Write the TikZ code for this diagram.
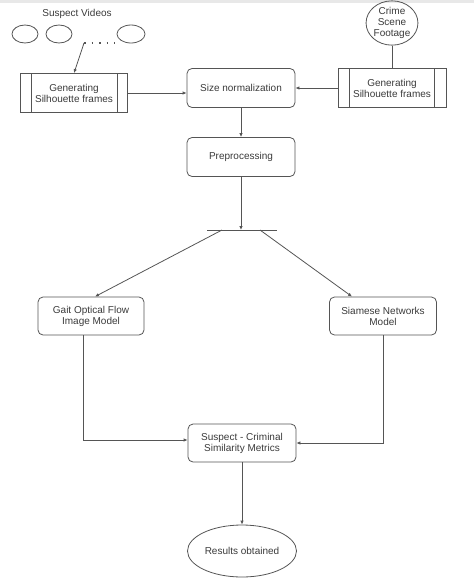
\documentclass[tikz,border=0pt]{standalone}
\usepackage{fontspec}
\setmainfont{Liberation Sans}
\usetikzlibrary{arrows.meta,shapes.geometric}
\definecolor{ln}{HTML}{555555}
\definecolor{tx}{HTML}{3A3A3A}
\tikzset{
  base/.style={draw=ln,line width=0.8pt,text=tx,align=center,font=\fontsize{10}{11}\selectfont,inner sep=1pt},
  rbox/.style={base,rectangle,rounded corners=5pt,minimum width=108pt,minimum height=39pt},
  pbox/.style={base,rectangle,minimum width=107pt,minimum height=39pt},
  oval/.style={base,ellipse,inner sep=0pt},
  conn/.style={draw=ln,line width=0.8pt},
  arr/.style={conn,-{Latex[length=4pt,width=3.5pt]}}
}
\begin{document}
\begin{tikzpicture}[x=1pt,y=-1pt]
\useasboundingbox (0,0) rectangle (474,579);
\fill[gray!18] (0,0) rectangle (474,3);
% suspect videos
\node[text=tx,font=\fontsize{10}{11}\selectfont] (sv) at (77,14) {Suspect Videos};
\node[oval,minimum width=26pt,minimum height=18pt] (v1) at (25,34) {};
\node[oval,minimum width=26pt,minimum height=18pt] (v2) at (59,34) {};
\node[oval,minimum width=28pt,minimum height=18pt] (v3) at (131,34) {};
\coordinate (d1) at (84,43);
\coordinate (d2) at (115,43);
\draw[ln,line width=1.3pt,dash pattern=on 1.5pt off 6pt] (d1) -- (d2);
% crime scene
\node[oval,minimum width=50pt,minimum height=36pt] (cs) at (392,23) {Crime\\Scene\\Footage};
% generating boxes
\node[pbox] (g1) at (74,93) {Generating\\Silhouette frames};
\draw[conn] ([xshift=11pt]g1.north west) -- ([xshift=11pt]g1.south west);
\draw[conn] ([xshift=-11pt]g1.north east) -- ([xshift=-11pt]g1.south east);
\node[pbox,minimum width=108pt] (g2) at (392,88) {Generating\\Silhouette frames};
\draw[conn] ([xshift=12pt]g2.north west) -- ([xshift=12pt]g2.south west);
\draw[conn] ([xshift=-12pt]g2.north east) -- ([xshift=-12pt]g2.south east);
% main column
\node[rbox] (sn) at (241,88) {Size normalization};
\node[rbox] (pre) at (241,157) {Preprocessing};
\coordinate (barL) at (207,230);
\coordinate (barR) at (277,230);
\coordinate (barA) at (222,230);
\coordinate (barB) at (260,230);
\node[rbox,minimum width=106pt,minimum height=38pt] (gait) at (91,316) {Gait Optical Flow\\Image Model};
\node[rbox,minimum width=107pt,minimum height=38pt] (siam) at (383,316) {Siamese Networks\\Model};
\node[rbox,minimum width=108pt,minimum height=38pt] (sus) at (242,443) {Suspect - Criminal\\Similarity Metrics};
\node[oval,minimum width=109pt,minimum height=52pt] (res) at (242,551) {Results obtained};
% connectors
\draw[arr] (d1) -- (g1.north);
\draw[conn] (cs.south) -- (g2.north);
\draw[arr] (g1.east) -- (g1.east -| sn.west);
\draw[arr] (g2.west) -- (g2.west -| sn.east);
\draw[arr] (sn.south) -- (pre.north);
\draw[conn] (barL) -- (barR);
\draw[arr] (pre.south) -- (pre.south |- barL);
\draw[arr] (barA) -- ([xshift=4pt]gait.north);
\draw[arr] (barB) -- ([xshift=-31pt]siam.north);
\draw[arr] ([xshift=-8pt]gait.south) |- ([yshift=3pt]sus.west);
\draw[arr] (siam.south) |- (sus.east);
\draw[arr] (sus.south) -- (res.north);
\end{tikzpicture}
\end{document}
